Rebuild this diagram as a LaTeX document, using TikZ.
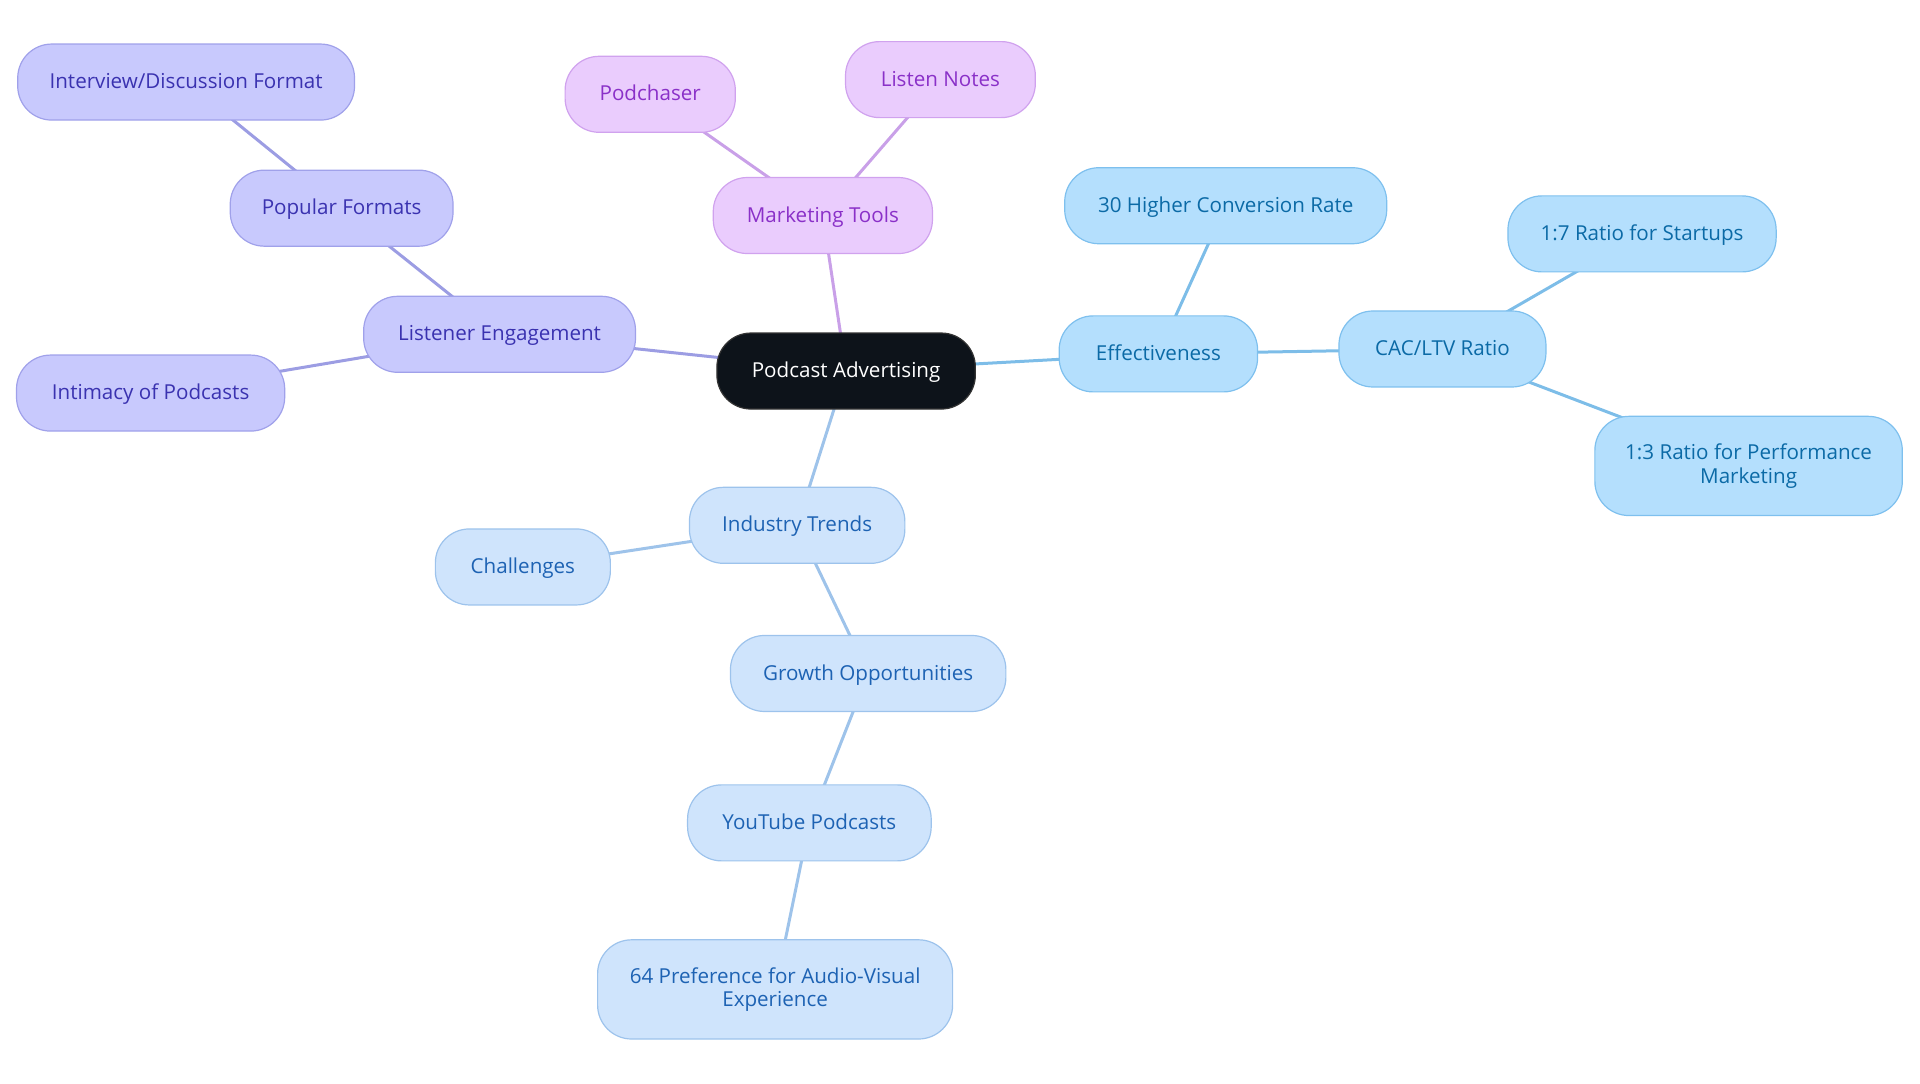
\documentclass[tikz,border=0pt]{standalone}
\usepackage{fontspec}
\setmainfont{Open Sans}
\usetikzlibrary{backgrounds}
\definecolor{vfill}{HTML}{C8C9FD}
\definecolor{vdraw}{HTML}{A0A1EA}
\definecolor{vtext}{HTML}{3A32B0}
\definecolor{vline}{HTML}{9C9DE3}
\definecolor{pfill}{HTML}{EACCFD}
\definecolor{pdraw}{HTML}{D0A2EE}
\definecolor{ptext}{HTML}{8A30C8}
\definecolor{pline}{HTML}{C9A0E8}
\definecolor{bfill}{HTML}{B4DFFD}
\definecolor{bdraw}{HTML}{7EC0EE}
\definecolor{btext}{HTML}{0B6AA6}
\definecolor{bline}{HTML}{7DBDE8}
\definecolor{lfill}{HTML}{CFE4FC}
\definecolor{ldraw}{HTML}{9DC3EC}
\definecolor{ltext}{HTML}{1D62B3}
\definecolor{lline}{HTML}{9EC3EA}
\definecolor{cfill}{HTML}{0D131A}
\tikzset{
  pill/.style={rectangle, rounded corners=17pt, line width=0.6pt, minimum height=38pt,
    inner xsep=4pt, inner ysep=4pt, align=center, font=\fontsize{10.3}{11.8}\selectfont},
  oneline/.style={text height=9pt, text depth=2.4pt},
  twoline/.style={minimum height=49.6pt},
  rootbox/.style={pill, oneline, fill=cfill, draw=black!80, text=white},
  vbox/.style={pill, fill=vfill, draw=vdraw, text=vtext},
  pbox/.style={pill, fill=pfill, draw=pdraw, text=ptext},
  bbox/.style={pill, fill=bfill, draw=bdraw, text=btext},
  lbox/.style={pill, fill=lfill, draw=ldraw, text=ltext},
  link/.style={line width=1.5pt},
}
\begin{document}
\begin{tikzpicture}[x=0.61224pt, y=-0.61224pt]
\useasboundingbox (0,0) rectangle (1568,884.5);
\node[rootbox, minimum width=129.2pt] (root) at (691,303) {Podcast Advertising};
% violet group
\node[vbox, oneline, minimum width=135.9pt] (le) at (408,273) {Listener Engagement};
\node[vbox, oneline, minimum width=111.4pt] (pf) at (279,170) {Popular Formats};
\node[vbox, oneline, minimum width=168.4pt] (idf) at (152,67) {Interview/Discussion Format};
\node[vbox, oneline, minimum width=134.1pt] (ip) at (123,321) {Intimacy of Podcasts};
% purple group
\node[pbox, oneline, minimum width=109.6pt] (mt) at (672,176) {Marketing Tools};
\node[pbox, oneline, minimum width=85.1pt] (pc) at (531,77) {Podchaser};
\node[pbox, oneline, minimum width=94.9pt] (ln) at (768,65) {Listen Notes};
% blue group
\node[bbox, oneline, minimum width=99.2pt] (ef) at (946,289) {Effectiveness};
\node[bbox, oneline, minimum width=161pt] (hc) at (1001,168) {30 Higher Conversion Rate};
\node[bbox, oneline, minimum width=103.5pt] (cac) at (1178,285) {CAC/LTV Ratio};
\node[bbox, oneline, minimum width=134.1pt] (r17) at (1341,191) {1:7 Ratio for Startups};
\node[bbox, twoline, minimum width=153.7pt] (r13) at (1428,380.5) {1:3 Ratio for Performance\\Marketing};
% pale blue group
\node[lbox, oneline, minimum width=107.7pt] (it) at (651,429) {Industry Trends};
\node[lbox, oneline, minimum width=87.5pt] (ch) at (427,463) {Challenges};
\node[lbox, oneline, minimum width=137.7pt] (go) at (709,550) {Growth Opportunities};
\node[lbox, oneline, minimum width=121.8pt] (yt) at (661,672) {YouTube Podcasts};
\node[lbox, twoline, minimum width=177.5pt] (pav) at (633,808) {64 Preference for Audio-Visual\\Experience};
\begin{pgfonlayer}{background}
\draw[link, vline] (root.center) -- (le.center);
\draw[link, vline] (le.center) -- (pf.center);
\draw[link, vline] (pf.center) -- (idf.center);
\draw[link, vline] (le.center) -- (ip.center);
\draw[link, pline] (root.center) -- (mt.center);
\draw[link, pline] (mt.center) -- (pc.center);
\draw[link, pline] (mt.center) -- (ln.center);
\draw[link, bline] (root.center) -- (ef.center);
\draw[link, bline] (ef.center) -- (hc.center);
\draw[link, bline] (ef.center) -- (cac.center);
\draw[link, bline] (cac.center) -- (r17.center);
\draw[link, bline] (cac.center) -- (r13.center);
\draw[link, lline] (root.center) -- (it.center);
\draw[link, lline] (it.center) -- (ch.center);
\draw[link, lline] (it.center) -- (go.center);
\draw[link, lline] (go.center) -- (yt.center);
\draw[link, lline] (yt.center) -- (pav.center);
\end{pgfonlayer}
\end{tikzpicture}
\end{document}
